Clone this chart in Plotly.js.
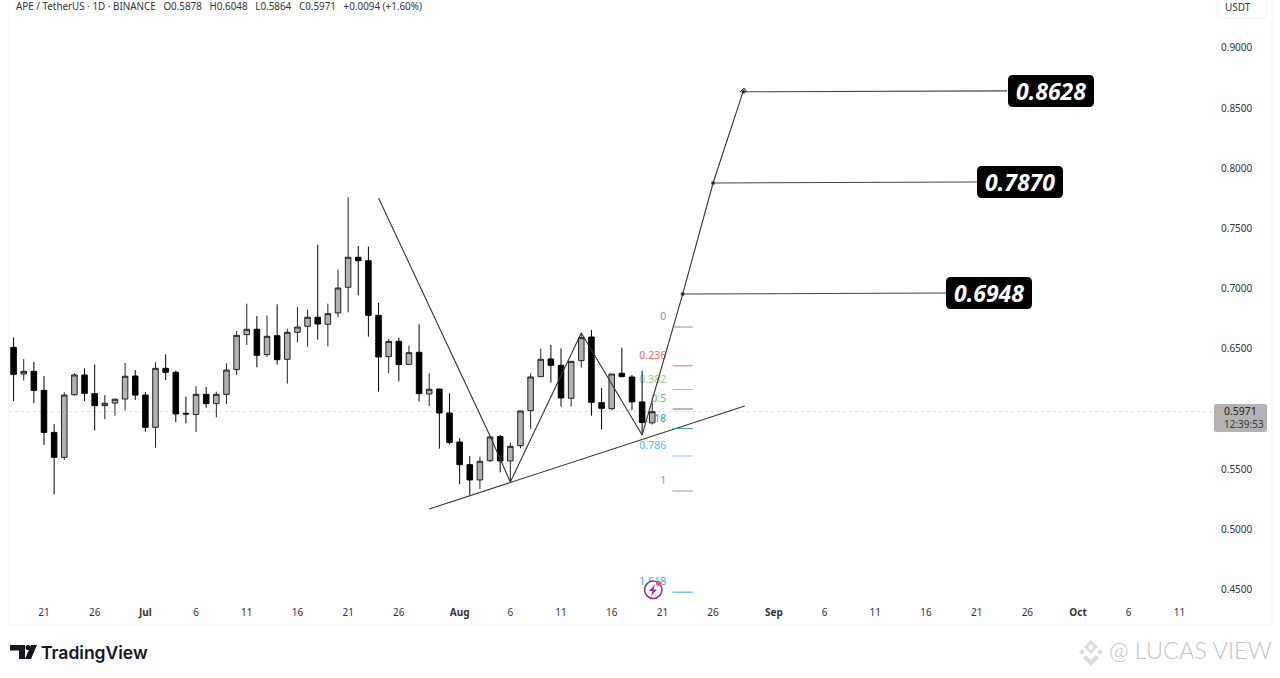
<!DOCTYPE html>
<html><head><meta charset="utf-8">
<script src="https://cdn.plot.ly/plotly-3.0.1.min.js"></script>
<style>html,body{margin:0;padding:0;background:#fff;overflow:hidden}#c{width:1280px;height:678px}</style>
</head><body><div id="c"></div>
<script>
const firstDay = Date.UTC(2024, 5, 18);
const opens  = [.6505,.6284,.6306,.6148,.5799,.5592,.6112,.6276,.6121,.6021,.6043,.6076,.6267,.6109,.5841,.6331,.6298,.5957,.5947,.6115,.6038,.6115,.6320,.6611,.6655,.6445,.6602,.6406,.6630,.6680,.6755,.6697,.6791,.7004,.7253,.7225,.6771,.6428,.6555,.6364,.6464,.6118,.6159,.5960,.5719,.5531,.5404,.5564,.5764,.5562,.5689,.5980,.6262,.6409,.6356,.6082,.6395,.6591,.6046,.5996,.6290,.6259,.6052,.5878];
const highs  = [.6586,.6408,.6384,.6267,.5869,.6134,.6290,.6331,.6362,.6109,.6080,.6375,.6317,.6134,.6381,.6447,.6312,.6096,.6182,.6176,.6137,.6373,.6641,.6868,.6766,.6769,.6863,.6660,.6840,.6818,.7358,.6868,.7151,.7751,.7347,.7342,.6876,.6575,.6586,.6519,.6697,.6290,.6159,.6121,.5750,.5603,.5597,.5769,.5778,.5716,.5977,.6290,.6495,.6525,.6497,.6389,.6628,.6650,.6165,.6284,.6503,.6276,.6312,.6048];
const lows   = [.6060,.6230,.6042,.5694,.5285,.5570,.6105,.6060,.5816,.5908,.5938,.5982,.6068,.5805,.5672,.6234,.5885,.5874,.5802,.6004,.5924,.6035,.6276,.6525,.6339,.6425,.6362,.6204,.6547,.6511,.6569,.6514,.6755,.6796,.6937,.6594,.6137,.6290,.6223,.6359,.6054,.6018,.5664,.5700,.5368,.5279,.5329,.5553,.5467,.5390,.5667,.5827,.6262,.6212,.6013,.6013,.6337,.5938,.5822,.5985,.6257,.5985,.5777,.5864];
const closes = [.6281,.6306,.6148,.5799,.5592,.6109,.6276,.6123,.6021,.6041,.6074,.6265,.6109,.5841,.6331,.6298,.5952,.5952,.6115,.6038,.6115,.6317,.6605,.6655,.6439,.6597,.6403,.6630,.6674,.6755,.6699,.6785,.6998,.7253,.7225,.6771,.6425,.6555,.6362,.6461,.6121,.6157,.5960,.5716,.5531,.5404,.5559,.5761,.5562,.5683,.5977,.6259,.6406,.6356,.6085,.6389,.6586,.6049,.5999,.6284,.6262,.6052,.5880,.5971];

const patternX = ["2024-07-24","2024-08-04","2024-08-06","2024-08-13","2024-08-19","2024-08-23","2024-08-26","2024-08-29"];
const patternY = [.7746,.5769,.5387,.6625,.5777,.6948,.7870,.8640];
const trendX = ["2024-07-29","2024-08-29 03:00"];
const trendY = [.5163,.6018];
const targetValues = [.6948,.7870,.8628];
const targetStart = ["2024-08-23","2024-08-26","2024-08-29"];
const targetEnd = ["2024-09-18","2024-09-21","2024-09-24"];
const targetEndY = [.6956,.7879,.8635];
const targetLabels = ["0.6948","0.7870","0.8628"];
const fibLevels = ["0","0.236","0.382","0.5","0.618","0.786","1","1.618"];
const fibPrices = [.6674,.6352,.6154,.5993,.5832,.5603,.5312,.4472];
const fibColors = ["#8f8f8f","#f2686c","#8fce92","#66bb6a","#26a69a","#64b5f6","#9a9a9a","#42a5f5"];
const fibLineColors = ["#8f8f8f","#f2686c","#81c784","#4a8f4d","#26a69a","#90caf9","#9a9a9a","#42a5f5"];
const lastPrice = 0.5971;
const priceTicks = [.45,.5,.55,.65,.7,.75,.8,.85,.9];
const priceLabels = ["0.4500","0.5000","0.5500","0.6500","0.7000","0.7500","0.8000","0.8500","0.9000"];
const dateTicks = ["2024-06-21","2024-06-26","2024-07-01","2024-07-06","2024-07-11","2024-07-16","2024-07-21","2024-07-26","2024-08-01","2024-08-06","2024-08-11","2024-08-16","2024-08-21","2024-08-26","2024-09-01","2024-09-06","2024-09-11","2024-09-16","2024-09-21","2024-09-26","2024-10-01","2024-10-06","2024-10-11"];
const dateLabels = ["21","26","<b>Jul</b>","6","11","16","21","26","<b>Aug</b>","6","11","16","21","26","<b>Sep</b>","6","11","16","21","26","<b>Oct</b>","6","11"];

const days = opens.map((_, i) => new Date(firstDay + i * 864e5).toISOString().slice(0, 10));
const xRange = ["2024-06-17 13:09", "2024-10-14 07:30"];
const yRange = [0.4382, 0.9390];
const L = 9, T = 0, W = 1204, H = 603;
const px = x => (x - L) / W, py = y => 1 - (y - T) / H;
const pth = s => s.replace(/(-?[\d.]+),(-?[\d.]+)/g, (m, a, b) => px(+a).toFixed(5) + "," + py(+b).toFixed(5));
const pathShape = (d, fill, line, w) => ({type: "path", xref: "paper", yref: "paper", path: pth(d), fillcolor: fill || "rgba(0,0,0,0)", line: {color: line || "rgba(0,0,0,0)", width: w || 0}});
const rrect = (a, b, c, d, r) => `M${a + r},${b} L${c - r},${b} Q${c},${b} ${c},${b + r} L${c},${d - r} Q${c},${d} ${c - r},${d} L${a + r},${d} Q${a},${d} ${a},${d - r} L${a},${b + r} Q${a},${b} ${a + r},${b} Z`;
const note = (x, y, text, size, color, anchor, extra) => Object.assign({xref: "paper", yref: "paper", x: px(x), y: py(y), text, showarrow: false, xanchor: anchor || "center", yanchor: "middle", font: {family: "Noto Sans, sans-serif", size, color}}, extra || {});

const traces = [
  {type: "scatter", mode: "text", x: fibLevels.map(() => "2024-08-21 09:00"), y: fibPrices.map(p => p + 0.0078), text: fibLevels, textposition: "middle left", textfont: {family: "Noto Sans, sans-serif", size: 10.5, color: fibColors}, hoverinfo: "skip", showlegend: false},
  {type: "scatter", mode: "lines", x: xRange, y: [lastPrice, lastPrice], line: {color: "#dedede", width: 1, dash: "dot"}, hoverinfo: "skip", showlegend: false},
  {type: "candlestick", xaxis: "x2", yaxis: "y2", x: days, open: opens, high: highs, low: lows, close: closes, whiskerwidth: 0,
   increasing: {line: {color: "#222", width: 1}, fillcolor: "#b2b2b2"}, decreasing: {line: {color: "#000", width: 1}, fillcolor: "#000"}, hoverinfo: "skip", showlegend: false},
  {type: "scatter", mode: "lines", xaxis: "x2", yaxis: "y2", x: patternX, y: patternY, line: {color: "#333", width: 1.1}, hoverinfo: "skip", showlegend: false},
  {type: "scatter", mode: "lines", xaxis: "x2", yaxis: "y2", x: trendX, y: trendY, line: {color: "#333", width: 1.1}, hoverinfo: "skip", showlegend: false}
];
targetValues.forEach((v, i) => traces.push({type: "scatter", mode: "lines+markers", xaxis: "x2", yaxis: "y2", x: [targetStart[i], targetEnd[i]], y: [v, targetEndY[i]], line: {color: "#444", width: 1.1}, marker: {size: [3.5, 0], color: "#000"}, hoverinfo: "skip", showlegend: false}));
fibLevels.forEach((f, i) => traces.push({type: "scatter", mode: "lines", xaxis: "x2", yaxis: "y2", x: ["2024-08-22", "2024-08-24"], y: [fibPrices[i], fibPrices[i]], line: {color: fibLineColors[i], width: 1}, hoverinfo: "skip", showlegend: false}));

const shapes = [
  {type: "line", xref: "paper", yref: "paper", x0: px(9), x1: px(9), y0: py(0), y1: py(625), line: {color: "#f2f2f2", width: 1}},
  {type: "line", xref: "paper", yref: "paper", x0: px(1272), x1: px(1272), y0: py(0), y1: py(625), line: {color: "#f2f2f2", width: 1}},
  {type: "line", xref: "paper", yref: "paper", x0: px(9), x1: px(1272), y0: py(625), y1: py(625), line: {color: "#f2f2f2", width: 1}},
  pathShape(rrect(1217, -6, 1267, 18, 5), "#fff", "#f0f0f0", 1),
  pathShape(rrect(1214, 404, 1267, 432, 2), "#b3b3b3"),
  pathShape(rrect(946, 277, 1032, 309, 5), "#000"),
  pathShape(rrect(977, 166, 1063, 198, 5), "#000"),
  pathShape(rrect(1008, 75, 1094, 107, 5), "#000"),
  pathShape("M740,92 L744,88 L747,92", null, "#333", 1),
  {type: "circle", xref: "paper", yref: "paper", x0: px(644.5), x1: px(662), y0: py(581), y1: py(598.5), fillcolor: "#fff", line: {color: "#9c27b0", width: 1.6}},
  pathShape("M655,584.5 L649,591 L652.5,591 L651,596 L657,589.5 L653.5,589.5 Z", "#9c27b0"),
  {type: "circle", xref: "paper", yref: "paper", x0: px(656), x1: px(661), y0: py(581), y1: py(586), fillcolor: "#ef5350", line: {width: 0}},
  pathShape("M10,645 L25,645 L25,659 L19,659 L19,650.5 L10,650.5 Z", "#131722"),
  {type: "circle", xref: "paper", yref: "paper", x0: px(25.5), x1: px(30.5), y0: py(645), y1: py(650), fillcolor: "#131722", line: {width: 0}},
  pathShape("M31,645 L37,645 L31,659 L25,659 Z", "#131722"),
  pathShape("M1091,640 L1098,647 L1091,654 L1084,647 Z M1091,644 L1094,647 L1091,650 L1088,647 Z", "#dcdcdc"),
  pathShape("M1082,649 L1085,652 L1082,655 L1079,652 Z M1100,649 L1103,652 L1100,655 L1097,652 Z", "#dcdcdc"),
  pathShape("M1091,666 L1083,658 L1086,655 L1091,660 L1096,655 L1099,658 Z", "#dcdcdc")
];

const annotations = [
  note(13.5, 6, "APE / TetherUS · 1D · BINANCE   O0.5878   H0.6048   L0.5864   C0.5971   +0.0094 (+1.60%)", 9.85, "#333", "left"),
  note(1238, 7, "USDT", 10, "#333"),
  note(1222, 411, "0.5971", 10.5, "#222", "left"),
  note(1222, 424, "12:39:53", 10, "#333", "left"),
  note(39, 652, "TradingView", 17.5, "#131722", "left", {font: {family: "Inter, sans-serif", size: 17.5, color: "#131722", weight: 600}}),
  note(1107, 650, "@ LUCAS VIEW", 23.5, "#c4c4c4", "left", {font: {family: "Lato, sans-serif", size: 23.5, color: "#c4c4c4", weight: 300}})
];
const boxCentres = [[989, 293], [1020, 182], [1051, 91]];
targetLabels.forEach((t, i) => annotations.push(note(boxCentres[i][0], boxCentres[i][1], t, 23, "#fff", "center", {font: {family: "Noto Sans, sans-serif", size: 23, color: "#fff", weight: 700, style: "italic"}})));

const layout = {
  width: 1280, height: 678, margin: {l: L, r: 1280 - L - W, t: T, b: 678 - T - H, pad: 0},
  paper_bgcolor: "#fff", plot_bgcolor: "#fff", showlegend: false, hovermode: false, boxgap: 0.22,
  xaxis: {type: "date", range: xRange, tickmode: "array", tickvals: dateTicks, ticktext: dateLabels, showgrid: false, zeroline: false, showline: false, ticks: "outside", ticklen: 0, tickcolor: "rgba(0,0,0,0)", tickfont: {family: "Noto Sans, sans-serif", size: 10, color: "#333"}, rangeslider: {visible: false}, fixedrange: true},
  yaxis: {range: yRange, side: "right", tickmode: "array", tickvals: priceTicks, ticktext: priceLabels, showgrid: false, zeroline: false, showline: false, ticks: "outside", ticklen: 5, tickcolor: "rgba(0,0,0,0)", ticklabelshift: 1, tickfont: {family: "Noto Sans, sans-serif", size: 10, color: "#333"}, fixedrange: true},
  xaxis2: {type: "date", range: xRange, overlaying: "x", visible: false, rangeslider: {visible: false}, fixedrange: true},
  yaxis2: {range: yRange, overlaying: "y", side: "right", visible: false, fixedrange: true},
  shapes, annotations
};
Plotly.newPlot("c", traces, layout, {staticPlot: true, displayModeBar: false});
</script></body></html>
